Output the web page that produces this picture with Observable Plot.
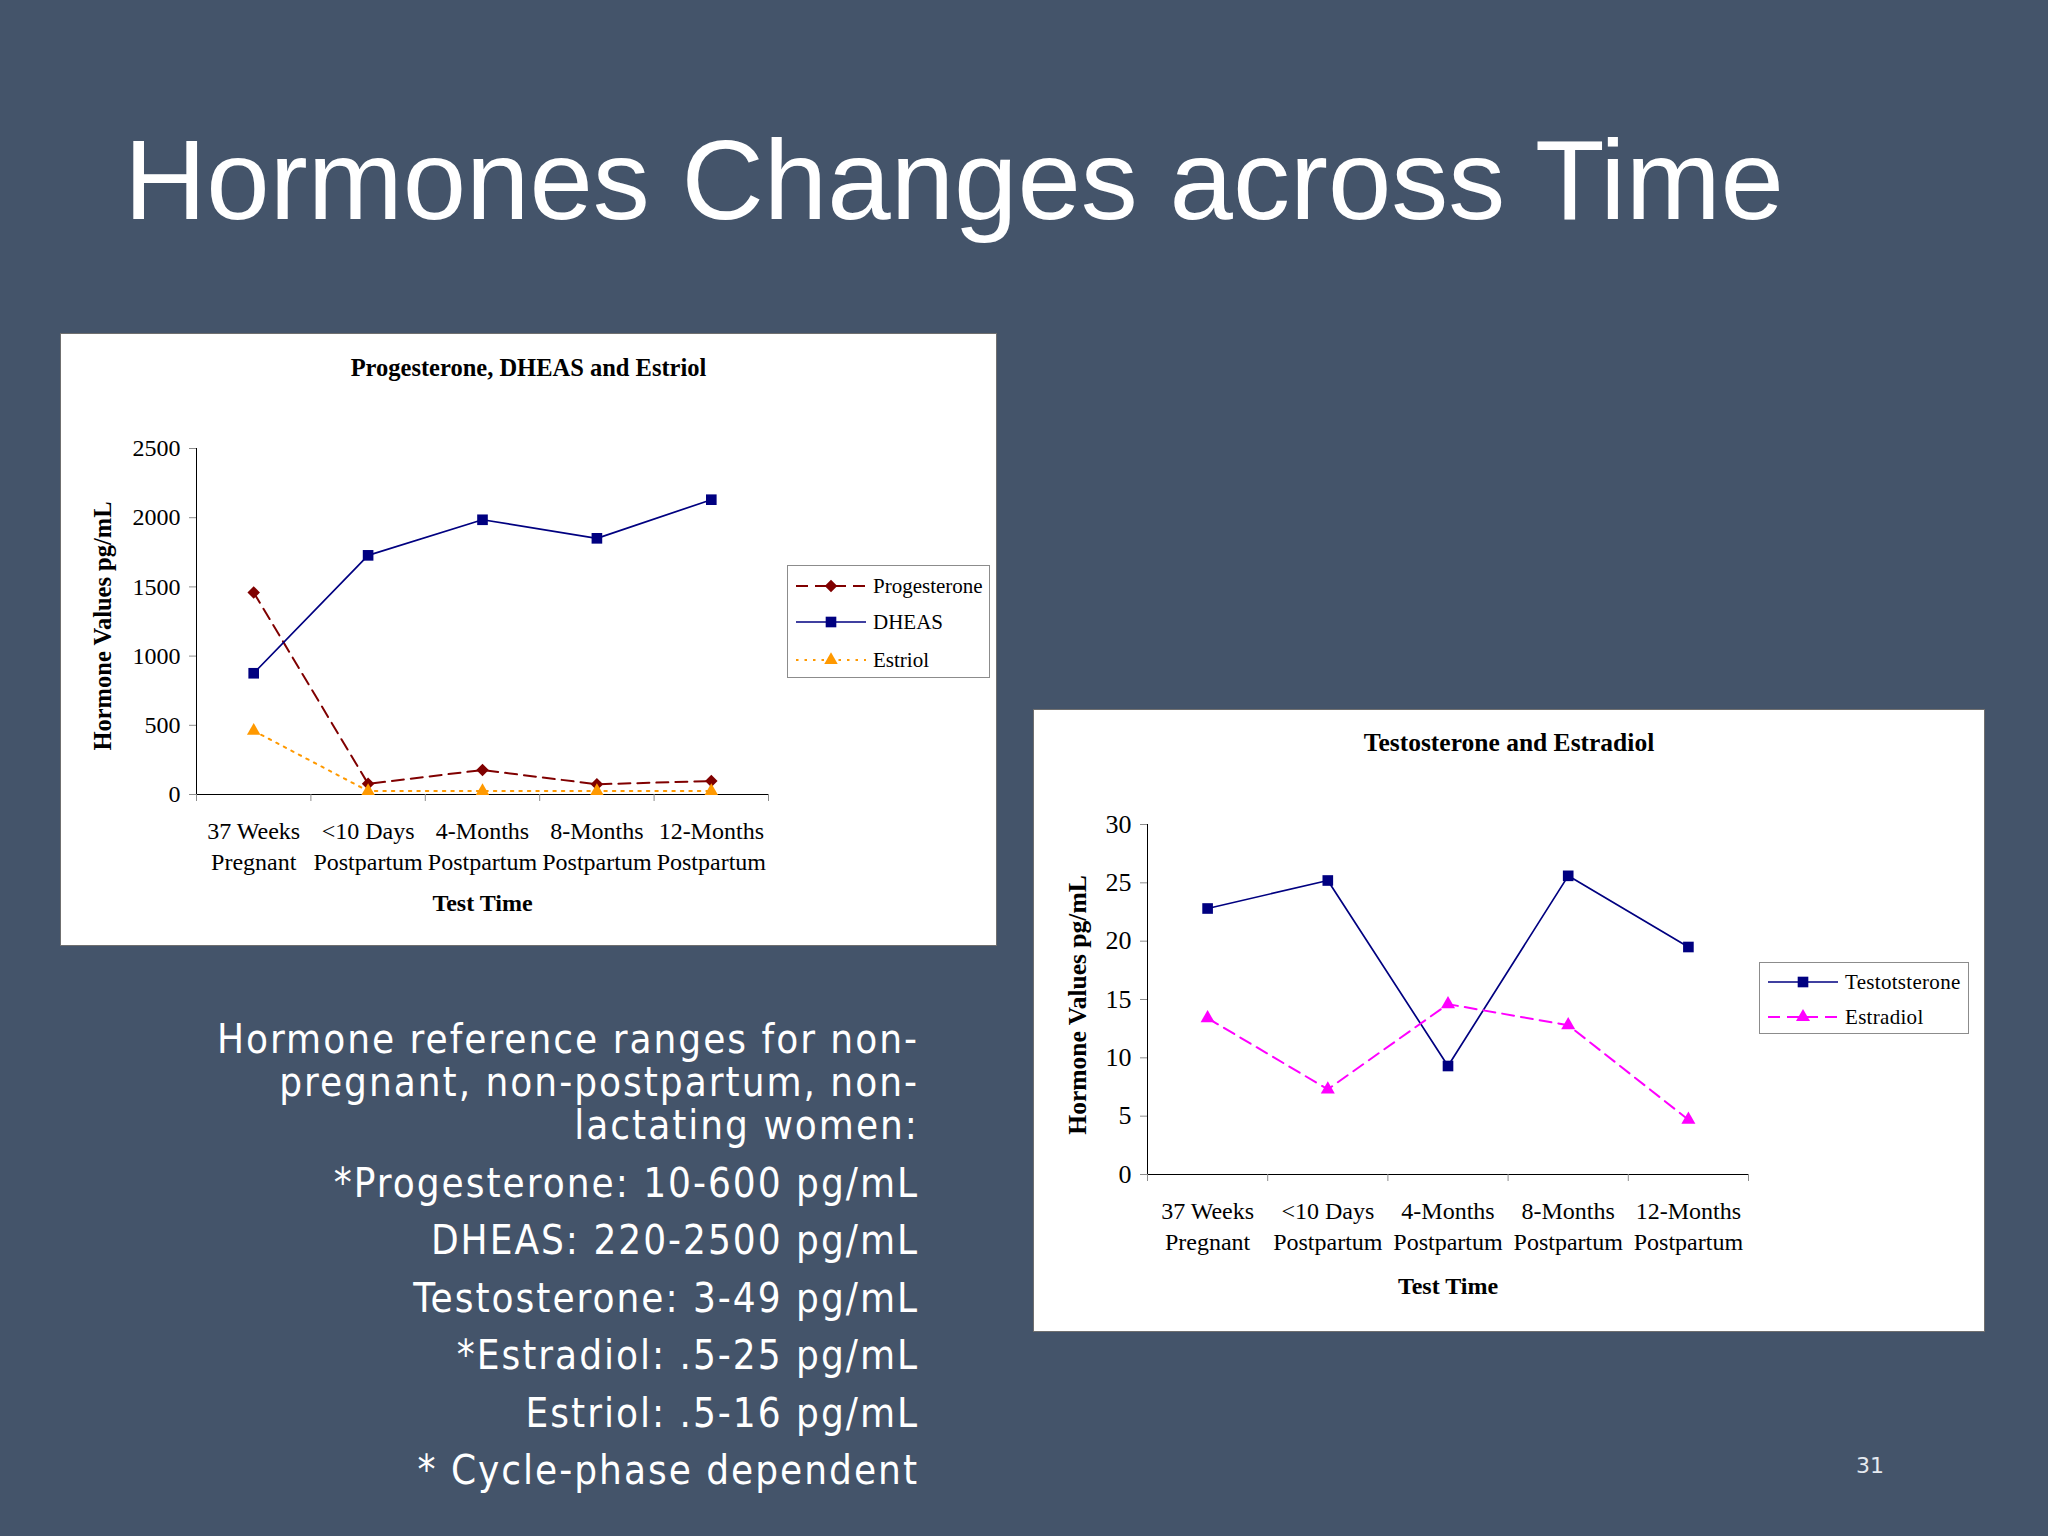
<!DOCTYPE html>
<html>
<head>
<meta charset="utf-8">
<script src="https://cdn.jsdelivr.net/npm/d3@7"></script>
<script src="https://cdn.jsdelivr.net/npm/@observablehq/plot@0.6"></script>
<style>
  html, body { margin: 0; padding: 0; background: #44546a; }
  #slide { position: relative; width: 2048px; height: 1536px; background: #44546a; overflow: hidden; }
  #title { position: absolute; left: 124px; top: 123px; font-family: "Liberation Sans", Arial, sans-serif; font-size: 114px; line-height: 1; color: #fff; white-space: nowrap; }
  .panel { position: absolute; background: #fff; border: 1px solid #6f6f6f; box-sizing: border-box; font-family: "Liberation Serif", "Times New Roman", serif; color: #000; }
  .panel > svg { position: absolute; left: 0; top: 0; }
  .panel svg g[aria-label*="axis"] line,
  .panel svg g[aria-label*="axis"] path { stroke: #8c8c8c !important; }
  .ptitle { position: absolute; left: 0; right: 0; text-align: center; font-weight: bold; line-height: 24px; white-space: nowrap; }
  .ylab { position: absolute; font-weight: bold; line-height: 24px; white-space: nowrap; transform: translate(-50%, -50%) rotate(-90deg); }
  .legend { position: absolute; border: 1px solid #8c8c8c; background: #fff; box-sizing: border-box; }
  .legend .row { position: absolute; left: 8px; height: 24px; display: flex; align-items: center; white-space: nowrap; font-size: 21px; }
  .legend .row svg { display: block; margin-right: 7px; }
  #notes { position: absolute; right: 1129px; top: 1018px; text-align: right; color: #fff; font-family: "DejaVu Sans Condensed", "DejaVu Sans", sans-serif; font-size: 40px; letter-spacing: 2px; white-space: nowrap; }
  #notes .line { height: 43px; line-height: 43px; }
  #notes .para { margin: 0 0 14.5px 0; }
  #pageno { position: absolute; left: 1856px; top: 1455px; font-family: "DejaVu Sans", sans-serif; font-size: 22px; line-height: 22px; color: #e6eaf0; }
</style>
</head>
<body>
<div id="slide">
  <div id="title">Hormones Changes across Time</div>

  <div class="panel" id="panel1" style="left:60px; top:333px; width:937px; height:613px;">
    <div class="ptitle" style="top:22px; font-size:24.5px;">Progesterone, DHEAS and Estriol</div>
    <div class="ylab" style="left:42px; top:292px; font-size:24.5px;">Hormone Values pg/mL</div>
    <div class="legend" id="legend1" style="left:726px; top:231px; width:203px; height:113px;"></div>
  </div>

  <div class="panel" id="panel2" style="left:1033px; top:709px; width:952px; height:623px;">
    <div class="ptitle" style="top:21px; font-size:25.5px;">Testosterone and Estradiol</div>
    <div class="ylab" style="left:44px; top:295px; font-size:25.5px;">Hormone Values pg/mL</div>
    <div class="legend" id="legend2" style="left:725px; top:252px; width:210px; height:72px; letter-spacing:0.3px;"></div>
  </div>

  <div id="notes"></div>
  <div id="pageno">31</div>
</div>

<script>
// Test time points (category labels, two lines each)
const timepoints = [
  "37 Weeks\nPregnant",
  "<10 Days\nPostpartum",
  "4-Months\nPostpartum",
  "8-Months\nPostpartum",
  "12-Months\nPostpartum"
];

// Hormone values, pg/mL, one per time point
const progesterone = [1460, 77, 177, 74, 97];
const dheas        = [876, 1728, 1985, 1851, 2130];
const estriol      = [460, 25, 25, 25, 25];
const testosterone = [22.8, 25.2, 9.3, 25.6, 19.5];
const estradiol    = [13.4, 7.3, 14.6, 12.8, 4.7];

// Y-axis ticks for each panel
const ticksPanel1 = [0, 500, 1000, 1500, 2000, 2500];
const ticksPanel2 = [0, 5, 10, 15, 20, 25, 30];

// Reference ranges shown beside the charts (each entry is one paragraph of lines)
const referenceNotes = [
  ["Hormone reference ranges for non-", "pregnant, non-postpartum, non-", "lactating women:"],
  ["*Progesterone: 10-600 pg/mL"],
  ["DHEAS: 220-2500 pg/mL"],
  ["Testosterone: 3-49 pg/mL"],
  ["*Estradiol: .5-25 pg/mL"],
  ["Estriol: .5-16 pg/mL"],
  ["* Cycle-phase dependent"]
];

// Marker shapes
const diamond = {
  draw(ctx, size) {
    const r = Math.sqrt(size / 2);
    ctx.moveTo(0, -r); ctx.lineTo(r, 0); ctx.lineTo(0, r); ctx.lineTo(-r, 0); ctx.closePath();
  }
};
const square = d3.symbolSquare;
const triangle = d3.symbolTriangle;

const panel1Series = [
  {name: "Progesterone", values: progesterone, color: "#800000", dash: "12,7", width: 2, symbol: diamond, r: 5},
  {name: "DHEAS", values: dheas, color: "#000080", dash: null, width: 1.7, symbol: square, r: 6},
  {name: "Estriol", values: estriol, color: "#ff9900", dash: "2.5,6", width: 2, symbol: triangle, r: 5}
];
const panel2Series = [
  {name: "Testotsterone", values: testosterone, color: "#000080", dash: null, width: 1.7, symbol: square, r: 6},
  {name: "Estradiol", values: estradiol, color: "#ff00ff", dash: "12,7", width: 2, symbol: triangle, r: 5.2}
];

function drawPanel(container, cfg) {
  const n = timepoints.length;
  const marks = [
    Plot.text(timepoints, {
      x: (d, i) => i + 0.5, frameAnchor: "bottom", dy: cfg.labelDy,
      text: d => d, lineHeight: 1.29, lineAnchor: "middle", fontSize: 24, fill: "#000"
    }),
    Plot.text(["Test Time"], {frameAnchor: "bottom", dy: cfg.xLabelDy, fontWeight: "bold", fontSize: 24, fill: "#000"})
  ];
  for (const s of cfg.series) {
    const pts = s.values.map((v, i) => ({pos: i + 0.5, value: v}));
    marks.push(Plot.line(pts, {x: "pos", y: "value", stroke: s.color, strokeWidth: s.width, strokeDasharray: s.dash}));
    marks.push(Plot.dot(pts, {x: "pos", y: "value", fill: s.color, stroke: "none", symbol: s.symbol, r: s.r}));
  }
  const svg = Plot.plot({
    width: cfg.width,
    height: cfg.height,
    marginLeft: cfg.marginLeft,
    marginRight: cfg.marginRight,
    marginTop: cfg.marginTop,
    marginBottom: cfg.marginBottom,
    style: {background: "transparent", color: "#000", fontFamily: "'Liberation Serif', 'Times New Roman', serif", fontSize: cfg.tickFontSize + "px", overflow: "visible"},
    x: {domain: [0, n], ticks: d3.range(n + 1), tickSize: 7, tickFormat: () => "", label: null, line: true},
    y: {domain: [0, cfg.yMax], ticks: cfg.yTicks, tickSize: 7, tickPadding: 9, tickFormat: d => String(d), label: null, line: true},
    marks
  });
  container.insertBefore(svg, container.firstChild);
}

function drawLegend(container, series, rowCenters) {
  series.forEach((s, k) => {
    const row = d3.select(container).append("div").attr("class", "row").style("top", (rowCenters[k] - 12) + "px");
    const svg = row.append("svg").attr("width", 70).attr("height", 24);
    svg.append("line").attr("x1", 0).attr("x2", 70).attr("y1", 12).attr("y2", 12)
      .attr("stroke", s.color).attr("stroke-width", s.width)
      .attr("stroke-dasharray", s.dash);
    svg.append("path")
      .attr("transform", "translate(35,12)")
      .attr("d", d3.symbol().type(s.symbol).size(s.r * s.r * Math.PI)())
      .attr("fill", s.color);
    row.append("span").text(s.name);
  });
}

drawPanel(document.getElementById("panel1"), {
  series: panel1Series, yMax: 2500, yTicks: ticksPanel1, tickFontSize: 24,
  width: 935, height: 611, marginLeft: 135, marginRight: 228, marginTop: 114, marginBottom: 151,
  labelDy: 50, xLabelDy: 116.5
});
drawPanel(document.getElementById("panel2"), {
  series: panel2Series, yMax: 30, yTicks: ticksPanel2, tickFontSize: 26,
  width: 950, height: 621, marginLeft: 113, marginRight: 236, marginTop: 114, marginBottom: 157,
  labelDy: 50, xLabelDy: 119.5
});

drawLegend(document.getElementById("legend1"), panel1Series, [20, 56, 94]);
drawLegend(document.getElementById("legend2"), panel2Series, [19, 54]);

// Reference-range notes
const notes = d3.select("#notes");
referenceNotes.forEach(lines => {
  const para = notes.append("div").attr("class", "para");
  lines.forEach(t => para.append("div").attr("class", "line").text(t));
});
</script>
</body>
</html>
